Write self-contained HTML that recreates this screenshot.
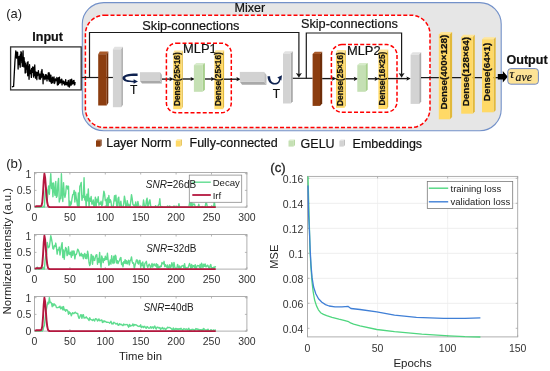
<!DOCTYPE html><html><head><meta charset="utf-8"><style>html,body{margin:0;padding:0;background:#fff;}svg{display:block;}</style></head><body><svg width="550" height="371" viewBox="0 0 550 371">
<rect width="550" height="371" fill="#fff"/>
<text x="6.2" y="18.1" font-family='"Liberation Sans", Arial, sans-serif' font-size="12.9" fill="#222">(a)</text>
<text x="32.2" y="41.1" font-family='"Liberation Sans", Arial, sans-serif' font-weight="bold" font-size="12.6" fill="#111" stroke="#111" stroke-width="0.2">Input</text>
<rect x="82.3" y="2.6" width="418.9" height="128.2" rx="21.5" fill="#e6e6e6" stroke="#7391c9" stroke-width="1.1"/>
<rect x="85.4" y="15.2" width="344.6" height="112.4" rx="19" fill="#fff" stroke="#ff0000" stroke-width="1.5" stroke-dasharray="4 2.1"/>
<text x="234.4" y="12.4" font-family='"Liberation Sans", Arial, sans-serif' font-size="12.6" fill="#111" stroke="#111" stroke-width="0.2">Mixer</text>
<rect x="10.6" y="46.9" width="70.6" height="43.0" fill="#fff" stroke="#333" stroke-width="1.3"/>
<polyline points="11.9,86.8 13.6,86.4 14.9,62 15.8,50.8 16.30,55.21 16.56,58.06 16.82,55.50 17.08,52.13 17.34,55.53 17.60,52.36 17.86,59.91 18.12,69.01 18.38,57.09 18.64,56.68 18.90,64.63 19.16,64.05 19.42,62.62 19.68,56.06 19.94,62.25 20.20,67.18 20.46,54.38 20.72,60.33 20.98,51.59 21.24,55.76 21.50,52.72 21.76,62.84 22.02,56.92 22.28,66.36 22.54,65.90 22.80,64.11 23.06,50.83 23.32,62.56 23.58,65.61 23.84,66.75 24.10,57.76 24.36,63.91 24.62,61.40 24.88,62.60 25.14,72.99 25.40,63.14 25.66,67.53 25.92,72.59 26.18,65.07 26.44,67.70 26.70,69.00 26.96,68.92 27.22,62.61 27.48,69.30 27.74,75.78 28.00,61.71 28.26,73.56 28.52,70.15 28.78,66.70 29.04,79.26 29.30,73.59 29.56,64.73 29.82,70.73 30.08,73.13 30.34,69.83 30.60,73.83 30.86,70.64 31.12,73.98 31.38,77.45 31.64,68.40 31.90,72.32 32.16,69.60 32.42,72.25 32.68,66.84 32.94,69.55 33.20,71.28 33.46,75.94 33.72,77.06 33.98,67.10 34.24,69.41 34.50,75.35 34.76,64.93 35.02,71.17 35.28,72.76 35.54,78.18 35.80,76.07 36.06,72.27 36.32,72.25 36.58,72.84 36.84,79.66 37.10,72.44 37.36,73.03 37.62,75.57 37.88,73.94 38.14,73.78 38.40,70.58 38.66,74.68 38.92,73.26 39.18,79.09 39.44,77.37 39.70,75.10 39.96,77.62 40.22,74.24 40.48,79.12 40.74,75.62 41.00,77.72 41.26,71.54 41.52,77.13 41.78,70.52 42.04,69.53 42.30,75.33 42.56,73.53 42.82,77.07 43.08,83.80 43.34,74.15 43.60,74.93 43.86,77.64 44.12,78.63 44.38,76.69 44.64,76.72 44.90,79.57 45.16,79.10 45.42,74.54 45.68,77.47 45.94,77.89 46.20,74.75 46.46,78.70 46.72,75.51 46.98,80.92 47.24,78.73 47.50,78.51 47.76,76.63 48.02,78.07 48.28,72.79 48.54,75.35 48.80,79.67 49.06,72.72 49.32,81.17 49.58,74.00 49.84,81.06 50.10,76.69 50.36,81.26 50.62,79.55 50.88,75.06 51.14,82.74 51.40,83.33 51.66,79.32 51.92,78.84 52.18,79.23 52.44,77.13 52.70,82.73 52.96,78.45 53.22,79.83 53.48,77.97 53.74,78.49 54.00,76.88 54.26,83.53 54.52,79.96 54.78,82.91 55.04,80.54 55.30,78.80 55.56,79.79 55.82,79.25 56.08,80.74 56.34,79.83 56.60,80.07 56.86,77.45 57.12,78.93 57.38,85.05 57.64,79.38 57.90,78.51 58.16,81.95 58.42,84.59 58.68,77.73 58.94,80.79 59.20,79.83 59.46,77.20 59.72,83.19 59.98,81.44 60.24,81.72 60.50,79.84 60.76,82.71 61.02,80.45 61.28,81.43 61.54,79.25 61.80,79.07 62.06,84.96 62.32,80.81 62.58,82.68 62.84,81.99 63.10,81.13 63.36,81.04 63.62,83.63 63.88,81.61 64.14,81.99 64.40,82.43 64.66,85.01 64.92,83.97 65.18,83.36 65.44,81.34 65.70,79.61 65.96,84.69 66.22,84.76 66.48,82.41 66.74,83.92 67.00,84.47 67.26,84.61 67.52,84.84 67.78,81.94 68.04,86.17 68.30,80.33 68.56,84.85 68.82,84.11 69.08,84.95 69.34,87.11 69.60,86.30 69.86,80.81 70.12,79.71 70.38,85.00 70.64,81.21 70.90,83.34 71.16,85.16 71.42,80.02 71.68,79.10 71.94,84.06 72.20,83.65 72.46,83.09 72.72,83.71 72.98,81.90 73.24,80.60 73.50,83.41 73.76,81.80 74.02,80.47 74.28,84.90 74.54,83.78 74.80,84.77 75.06,81.97" fill="none" stroke="#000" stroke-width="1.3" stroke-linejoin="round"/>
<line x1="81.5" y1="77.5" x2="113" y2="77.5" stroke="#1a1a1a" stroke-width="1.2"/>
<polyline points="89.5,77.5 89.5,32.5 298.9,32.5 298.9,74" fill="none" stroke="#1a1a1a" stroke-width="1.2"/>
<polygon points="298.9,77.7 295.9,72.9 298.9,73.9 301.9,72.9" fill="#1a1a1a"/>
<text x="142.3" y="29.8" font-family='"Liberation Sans", Arial, sans-serif' font-size="12.75" fill="#111" stroke="#111" stroke-width="0.2">Skip-connections</text>
<polyline points="306.3,78.4 306.3,33 401.6,33 401.6,74" fill="none" stroke="#1a1a1a" stroke-width="1.2"/>
<polygon points="401.6,77.7 398.6,72.9 401.6,73.9 404.6,72.9" fill="#1a1a1a"/>
<text x="300.9" y="28.0" font-family='"Liberation Sans", Arial, sans-serif' font-size="12.75" fill="#111" stroke="#111" stroke-width="0.2">Skip-connections</text>
<polygon points="98.2,54.2 99.8,51.400000000000006 108.3,51.400000000000006 106.7,54.2" fill="#a95a2a"/>
<polygon points="106.7,54.2 108.3,51.400000000000006 108.3,102.7 106.7,105.5" fill="#6e2d08"/>
<rect x="98.2" y="54.2" width="8.5" height="51.3" fill="#8c3d0f"/>
<polygon points="112.9,49.3 114.60000000000001,46.8 122.9,46.8 121.2,49.3" fill="#e2e2e2"/>
<polygon points="121.2,49.3 122.9,46.8 122.9,104.69999999999999 121.2,107.19999999999999" fill="#ababab"/>
<rect x="112.9" y="49.3" width="8.3" height="57.9" fill="#d3d3d3"/>
<path d="M137.6,73.5 C130,73.3 122.7,74.4 122.5,78.0 C122.4,81.4 128,82.4 134.6,82.4 L134.6,80.7 C129,80.8 125.3,80.1 125.3,78.0 C125.3,76.3 130,76.0 137.6,76.1 Z" fill="#0f2250"/>
<polygon points="138.0,81.5 133.6,79.2 133.6,83.8" fill="#0f2250"/>
<text x="133.6" y="93.6" text-anchor="middle" font-family='"Liberation Sans", Arial, sans-serif' font-size="12" fill="#111" stroke="#111" stroke-width="0.2">T</text>
<polygon points="140.0,81.0 160.0,81.0 162.0,83.6 142.0,83.6" fill="#a9a9a9"/>
<polygon points="160.0,72.2 162.0,74.8 162.0,83.6 160.0,81.0" fill="#bdbdbd"/>
<rect x="140.0" y="72.2" width="20.0" height="8.8" fill="#d2d2d2"/>
<line x1="162" y1="79.1" x2="170.8" y2="79.1" stroke="#141414" stroke-width="1.35"/>
<polygon points="173.8,79.1 169.4,77.0 170.20000000000002,79.1 169.4,81.19999999999999" fill="#141414"/>
<rect x="166.4" y="43.2" width="64.9" height="69.6" rx="10" fill="none" stroke="#ff0000" stroke-width="1.5" stroke-dasharray="4 2.1"/>
<text x="183.0" y="53.2" font-family='"Liberation Sans", Arial, sans-serif' font-size="12.9" fill="#111" stroke="#111" stroke-width="0.2">MLP1</text>
<polygon points="173.2,52.8 174.39999999999998,50.4 182.79999999999998,50.4 181.6,52.8" fill="#ffe699"/>
<polygon points="181.6,52.8 182.79999999999998,50.4 182.79999999999998,106.79999999999998 181.6,109.19999999999999" fill="#e2b93b"/>
<rect x="173.2" y="52.8" width="8.4" height="56.4" fill="#ffd966"/>
<text x="177.09999999999997" y="79.2" transform="rotate(-90 177.09999999999997 79.2)" text-anchor="middle" dominant-baseline="central" font-family='"Liberation Sans", Arial, sans-serif' font-weight="bold" font-size="8.3" fill="#111" stroke="#111" stroke-width="0.25">Dense(25×16)</text>
<line x1="182.5" y1="79.0" x2="191.9" y2="79.0" stroke="#141414" stroke-width="1.35"/>
<polygon points="194.9,79.0 190.5,76.9 191.3,79.0 190.5,81.1" fill="#141414"/>
<polygon points="193.9,65.1 196.3,62.99999999999999 204.9,62.99999999999999 202.5,65.1" fill="#d7ebca"/>
<polygon points="202.5,65.1 204.9,62.99999999999999 204.9,89.7 202.5,91.8" fill="#a8d08d"/>
<rect x="193.9" y="65.1" width="8.6" height="26.7" fill="#c5e0b4"/>
<line x1="205" y1="79.0" x2="212.3" y2="79.0" stroke="#141414" stroke-width="1.35"/>
<polygon points="215.3,79.0 210.9,76.9 211.70000000000002,79.0 210.9,81.1" fill="#141414"/>
<polygon points="214.4,52.6 215.6,50.2 224.1,50.2 222.9,52.6" fill="#ffe699"/>
<polygon points="222.9,52.6 224.1,50.2 224.1,106.8 222.9,109.2" fill="#e2b93b"/>
<rect x="214.4" y="52.6" width="8.5" height="56.6" fill="#ffd966"/>
<text x="218.35" y="79.0" transform="rotate(-90 218.35 79.0)" text-anchor="middle" dominant-baseline="central" font-family='"Liberation Sans", Arial, sans-serif' font-weight="bold" font-size="8.3" fill="#111" stroke="#111" stroke-width="0.25">Dense(25×16)</text>
<line x1="224" y1="79.2" x2="237.8" y2="79.2" stroke="#141414" stroke-width="1.35"/>
<polygon points="240.8,79.2 236.4,77.10000000000001 237.20000000000002,79.2 236.4,81.3" fill="#141414"/>
<polygon points="239.8,81.80000000000001 264.2,81.80000000000001 266.5,84.80000000000001 242.10000000000002,84.80000000000001" fill="#a9a9a9"/>
<polygon points="264.2,71.9 266.5,74.9 266.5,84.80000000000001 264.2,81.80000000000001" fill="#bdbdbd"/>
<rect x="239.8" y="71.9" width="24.4" height="9.9" fill="#d2d2d2"/>
<path d="M267.5,76.3 C267.7,81.6 270.6,84.6 274.7,84.6 C278.4,84.6 280.3,82.2 280.5,78.9 L279.1,78.9 C278.9,81.4 277.3,82.9 274.7,82.9 C272.0,82.9 270.2,80.6 270.1,76.3 Z" fill="#0f2250"/>
<polygon points="282.0,75.3 277.3,77.5 281.3,80.4" fill="#0f2250"/>
<text x="276.5" y="97.6" text-anchor="middle" font-family='"Liberation Sans", Arial, sans-serif' font-size="12" fill="#111" stroke="#111" stroke-width="0.2">T</text>
<polygon points="283.0,53.5 285.1,51.3 292.8,51.3 290.7,53.5" fill="#e2e2e2"/>
<polygon points="290.7,53.5 292.8,51.3 292.8,101.3 290.7,103.5" fill="#ababab"/>
<rect x="283.0" y="53.5" width="7.7" height="50.0" fill="#d3d3d3"/>
<line x1="292.8" y1="78.3" x2="312.6" y2="78.3" stroke="#1a1a1a" stroke-width="1.2"/>
<polygon points="312.6,54.0 314.8,51.7 322.2,51.7 320.0,54.0" fill="#a95a2a"/>
<polygon points="320.0,54.0 322.2,51.7 322.2,103.60000000000001 320.0,105.9" fill="#6e2d08"/>
<rect x="312.6" y="54.0" width="7.4" height="51.9" fill="#8c3d0f"/>
<line x1="322.2" y1="78.6" x2="333.4" y2="78.6" stroke="#141414" stroke-width="1.35"/>
<polygon points="336.4,78.6 332.0,76.5 332.79999999999995,78.6 332.0,80.69999999999999" fill="#141414"/>
<rect x="331.4" y="44.6" width="65.6" height="67.6" rx="10.5" fill="none" stroke="#ff0000" stroke-width="1.5" stroke-dasharray="4 2.1"/>
<text x="346.9" y="54.9" font-family='"Liberation Sans", Arial, sans-serif' font-size="12.9" fill="#111" stroke="#111" stroke-width="0.2">MLP2</text>
<polygon points="336.0,52.4 337.2,50.0 345.8,50.0 344.6,52.4" fill="#ffe699"/>
<polygon points="344.6,52.4 345.8,50.0 345.8,105.39999999999999 344.6,107.8" fill="#e2b93b"/>
<rect x="336.0" y="52.4" width="8.6" height="55.4" fill="#ffd966"/>
<text x="340.0" y="79.0" transform="rotate(-90 340.0 79.0)" text-anchor="middle" dominant-baseline="central" font-family='"Liberation Sans", Arial, sans-serif' font-weight="bold" font-size="8.3" fill="#111" stroke="#111" stroke-width="0.25">Dense(25×16)</text>
<line x1="345.5" y1="78.8" x2="355.2" y2="78.8" stroke="#141414" stroke-width="1.35"/>
<polygon points="358.2,78.8 353.8,76.7 354.59999999999997,78.8 353.8,80.89999999999999" fill="#141414"/>
<polygon points="357.3,65.1 359.7,62.99999999999999 367.7,62.99999999999999 365.3,65.1" fill="#d7ebca"/>
<polygon points="365.3,65.1 367.7,62.99999999999999 367.7,89.7 365.3,91.8" fill="#a8d08d"/>
<rect x="357.3" y="65.1" width="8.0" height="26.7" fill="#c5e0b4"/>
<line x1="368" y1="78.8" x2="376.0" y2="78.8" stroke="#141414" stroke-width="1.35"/>
<polygon points="379.0,78.8 374.6,76.7 375.4,78.8 374.6,80.89999999999999" fill="#141414"/>
<polygon points="378.4,52.0 379.59999999999997,49.6 388.2,49.6 387.0,52.0" fill="#ffe699"/>
<polygon points="387.0,52.0 388.2,49.6 388.2,106.6 387.0,109.0" fill="#e2b93b"/>
<rect x="378.4" y="52.0" width="8.6" height="57.0" fill="#ffd966"/>
<text x="382.4" y="78.6" transform="rotate(-90 382.4 78.6)" text-anchor="middle" dominant-baseline="central" font-family='"Liberation Sans", Arial, sans-serif' font-weight="bold" font-size="8.3" fill="#111" stroke="#111" stroke-width="0.25">Dense(16×25)</text>
<line x1="388" y1="78.6" x2="407.8" y2="78.6" stroke="#141414" stroke-width="1.35"/>
<polygon points="410.8,78.6 406.40000000000003,76.5 407.2,78.6 406.40000000000003,80.69999999999999" fill="#141414"/>
<polygon points="410.6,54.6 412.6,52.300000000000004 421.20000000000005,52.300000000000004 419.20000000000005,54.6" fill="#e2e2e2"/>
<polygon points="419.20000000000005,54.6 421.20000000000005,52.300000000000004 421.20000000000005,101.60000000000001 419.20000000000005,103.9" fill="#ababab"/>
<rect x="410.6" y="54.6" width="8.6" height="49.3" fill="#d3d3d3"/>
<line x1="421" y1="77.7" x2="500" y2="77.7" stroke="#1a1a1a" stroke-width="1.2"/>
<polygon points="438.8,34.2 441.0,32.0 452.1,32.0 449.90000000000003,34.2" fill="#ffe699"/>
<polygon points="449.90000000000003,34.2 452.1,32.0 452.1,117.1 449.90000000000003,119.3" fill="#e2b93b"/>
<rect x="438.8" y="34.2" width="11.1" height="85.1" fill="#ffd966"/>
<text x="443.35" y="72.1" transform="rotate(-90 443.35 72.1)" text-anchor="middle" dominant-baseline="central" font-family='"Liberation Sans", Arial, sans-serif' font-weight="bold" font-size="9.9" fill="#111" stroke="#111" stroke-width="0.25">Dense(400×128)</text>
<polygon points="461.2,36.9 463.2,34.8 474.8,34.8 472.8,36.9" fill="#ffe699"/>
<polygon points="472.8,36.9 474.8,34.8 474.8,111.6 472.8,113.69999999999999" fill="#e2b93b"/>
<rect x="461.2" y="36.9" width="11.6" height="76.8" fill="#ffd966"/>
<text x="466.0" y="71.6" transform="rotate(-90 466.0 71.6)" text-anchor="middle" dominant-baseline="central" font-family='"Liberation Sans", Arial, sans-serif' font-weight="bold" font-size="9.9" fill="#111" stroke="#111" stroke-width="0.25">Dense(128×64)</text>
<polygon points="482.0,39.3 484.1,37.199999999999996 495.70000000000005,37.199999999999996 493.6,39.3" fill="#ffe699"/>
<polygon points="493.6,39.3 495.70000000000005,37.199999999999996 495.70000000000005,110.2 493.6,112.3" fill="#e2b93b"/>
<rect x="482.0" y="39.3" width="11.6" height="73.0" fill="#ffd966"/>
<text x="486.8" y="72.0" transform="rotate(-90 486.8 72.0)" text-anchor="middle" dominant-baseline="central" font-family='"Liberation Sans", Arial, sans-serif' font-weight="bold" font-size="9.9" fill="#111" stroke="#111" stroke-width="0.25">Dense(64×1)</text>
<polygon points="497.8,73.9 502.8,73.9 502.8,70.9 507.8,76.8 502.8,82.5 502.8,79.6 497.8,79.6" fill="#000"/>
<text x="506.4" y="64.3" font-family='"Liberation Sans", Arial, sans-serif' font-weight="bold" font-size="12.6" fill="#111" stroke="#111" stroke-width="0.2">Output</text>
<rect x="507.8" y="68.6" width="30.6" height="15.6" rx="3" fill="#fde396" stroke="#7088c4" stroke-width="1"/>
<text x="509.6" y="78.3" font-family='"Liberation Serif", "Times New Roman", serif' font-style="italic" font-size="13" fill="#111" stroke="#111" stroke-width="0.2">τ<tspan font-size="11.8" dx="1.3" dy="3.0">ave</tspan></text>
<polygon points="96.0,140.70000000000002 97.3,139.4 101.6,139.4 100.3,140.70000000000002" fill="#a95a2a"/>
<polygon points="100.3,140.70000000000002 101.6,139.4 101.6,145.4 100.3,146.70000000000002" fill="#6e2d08"/>
<rect x="96.0" y="140.70000000000002" width="4.3" height="6.0" fill="#8c3d0f"/>
<text x="106.2" y="147.4" font-family='"Liberation Sans", Arial, sans-serif' font-size="12.5" fill="#111" stroke="#111" stroke-width="0.2">Layer Norm</text>
<polygon points="175.8,140.60000000000002 177.10000000000002,139.3 181.8,139.3 180.5,140.60000000000002" fill="#ffe699"/>
<polygon points="180.5,140.60000000000002 181.8,139.3 181.8,145.3 180.5,146.60000000000002" fill="#e2b93b"/>
<rect x="175.8" y="140.60000000000002" width="4.7" height="6.0" fill="#ffd966"/>
<text x="189.5" y="147.4" font-family='"Liberation Sans", Arial, sans-serif' font-size="12.5" fill="#111" stroke="#111" stroke-width="0.2">Fully-connected</text>
<polygon points="288.5,140.70000000000002 289.8,139.4 294.8,139.4 293.5,140.70000000000002" fill="#d7ebca"/>
<polygon points="293.5,140.70000000000002 294.8,139.4 294.8,145.3 293.5,146.60000000000002" fill="#a8d08d"/>
<rect x="288.5" y="140.70000000000002" width="5.0" height="5.9" fill="#c5e0b4"/>
<text x="300.6" y="147.5" font-family='"Liberation Sans", Arial, sans-serif' font-size="12.5" fill="#111" stroke="#111" stroke-width="0.2">GELU</text>
<polygon points="339.4,140.70000000000002 340.7,139.4 344.8,139.4 343.5,140.70000000000002" fill="#e2e2e2"/>
<polygon points="343.5,140.70000000000002 344.8,139.4 344.8,145.3 343.5,146.60000000000002" fill="#b2b2b2"/>
<rect x="339.4" y="140.70000000000002" width="4.1000000000000005" height="5.9" fill="#d3d3d3"/>
<text x="352.6" y="147.5" font-family='"Liberation Sans", Arial, sans-serif' font-size="12.5" fill="#111" stroke="#111" stroke-width="0.2">Embeddings</text>
<text x="6.2" y="168.0" font-family='"Liberation Sans", Arial, sans-serif' font-size="13.2" fill="#222">(b)</text>
<rect x="34.5" y="172.5" width="212.4" height="34.6" fill="#fff" stroke="#a6a6a6" stroke-width="0.9"/>
<line x1="34.50" y1="207.1" x2="34.50" y2="205.1" stroke="#a6a6a6" stroke-width="0.8"/>
<line x1="34.50" y1="172.5" x2="34.50" y2="174.5" stroke="#a6a6a6" stroke-width="0.8"/>
<text x="34.50" y="221.10" text-anchor="middle" font-family='"Liberation Sans", Arial, sans-serif' font-size="10.5" fill="#333">0</text>
<line x1="69.90" y1="207.1" x2="69.90" y2="205.1" stroke="#a6a6a6" stroke-width="0.8"/>
<line x1="69.90" y1="172.5" x2="69.90" y2="174.5" stroke="#a6a6a6" stroke-width="0.8"/>
<text x="69.90" y="221.10" text-anchor="middle" font-family='"Liberation Sans", Arial, sans-serif' font-size="10.5" fill="#333">50</text>
<line x1="105.30" y1="207.1" x2="105.30" y2="205.1" stroke="#a6a6a6" stroke-width="0.8"/>
<line x1="105.30" y1="172.5" x2="105.30" y2="174.5" stroke="#a6a6a6" stroke-width="0.8"/>
<text x="105.30" y="221.10" text-anchor="middle" font-family='"Liberation Sans", Arial, sans-serif' font-size="10.5" fill="#333">100</text>
<line x1="140.70" y1="207.1" x2="140.70" y2="205.1" stroke="#a6a6a6" stroke-width="0.8"/>
<line x1="140.70" y1="172.5" x2="140.70" y2="174.5" stroke="#a6a6a6" stroke-width="0.8"/>
<text x="140.70" y="221.10" text-anchor="middle" font-family='"Liberation Sans", Arial, sans-serif' font-size="10.5" fill="#333">150</text>
<line x1="176.10" y1="207.1" x2="176.10" y2="205.1" stroke="#a6a6a6" stroke-width="0.8"/>
<line x1="176.10" y1="172.5" x2="176.10" y2="174.5" stroke="#a6a6a6" stroke-width="0.8"/>
<text x="176.10" y="221.10" text-anchor="middle" font-family='"Liberation Sans", Arial, sans-serif' font-size="10.5" fill="#333">200</text>
<line x1="211.50" y1="207.1" x2="211.50" y2="205.1" stroke="#a6a6a6" stroke-width="0.8"/>
<line x1="211.50" y1="172.5" x2="211.50" y2="174.5" stroke="#a6a6a6" stroke-width="0.8"/>
<text x="211.50" y="221.10" text-anchor="middle" font-family='"Liberation Sans", Arial, sans-serif' font-size="10.5" fill="#333">250</text>
<line x1="246.90" y1="207.1" x2="246.90" y2="205.1" stroke="#a6a6a6" stroke-width="0.8"/>
<line x1="246.90" y1="172.5" x2="246.90" y2="174.5" stroke="#a6a6a6" stroke-width="0.8"/>
<text x="246.90" y="221.10" text-anchor="middle" font-family='"Liberation Sans", Arial, sans-serif' font-size="10.5" fill="#333">300</text>
<line x1="34.5" y1="207.10" x2="36.5" y2="207.10" stroke="#a6a6a6" stroke-width="0.8"/>
<line x1="246.9" y1="207.10" x2="244.9" y2="207.10" stroke="#a6a6a6" stroke-width="0.8"/>
<text x="31.3" y="211.20" text-anchor="end" font-family='"Liberation Sans", Arial, sans-serif' font-size="10.5" fill="#333">0</text>
<line x1="34.5" y1="190.39" x2="36.5" y2="190.39" stroke="#a6a6a6" stroke-width="0.8"/>
<line x1="246.9" y1="190.39" x2="244.9" y2="190.39" stroke="#a6a6a6" stroke-width="0.8"/>
<text x="31.3" y="194.49" text-anchor="end" font-family='"Liberation Sans", Arial, sans-serif' font-size="10.5" fill="#333">0.5</text>
<line x1="34.5" y1="173.67" x2="36.5" y2="173.67" stroke="#a6a6a6" stroke-width="0.8"/>
<line x1="246.9" y1="173.67" x2="244.9" y2="173.67" stroke="#a6a6a6" stroke-width="0.8"/>
<text x="31.3" y="177.77" text-anchor="end" font-family='"Liberation Sans", Arial, sans-serif' font-size="10.5" fill="#333">1</text>
<polyline points="35.21,207.10 35.92,207.10 36.62,207.10 37.33,207.10 38.04,207.10 38.75,207.10 39.46,207.10 40.16,207.10 40.87,207.10 41.58,207.10 42.29,207.10 43.00,207.10 43.70,206.33 44.41,207.10 45.12,192.34 45.83,187.46 46.54,189.43 47.24,199.59 47.95,191.21 48.66,185.91 49.37,194.27 50.08,183.49 50.78,173.67 51.49,188.48 52.20,183.07 52.91,196.70 53.62,182.93 54.32,190.28 55.03,195.28 55.74,181.48 56.45,197.37 57.16,195.98 57.86,184.17 58.57,178.40 59.28,201.96 59.99,198.76 60.70,198.57 61.40,173.80 62.11,194.77 62.82,201.48 63.53,182.80 64.24,193.98 64.94,197.42 65.65,193.69 66.36,185.85 67.07,185.88 67.78,188.97 68.48,186.13 69.19,207.10 69.90,201.16 70.61,205.23 71.32,203.77 72.02,198.52 72.73,194.55 73.44,194.35 74.15,190.40 74.86,202.00 75.56,192.18 76.27,197.70 76.98,202.24 77.69,207.10 78.40,192.99 79.10,207.10 79.81,186.49 80.52,184.80 81.23,182.42 81.94,200.29 82.64,196.02 83.35,197.49 84.06,177.67 84.77,200.04 85.48,196.33 86.18,207.10 86.89,194.23 87.60,200.73 88.31,188.93 89.02,207.10 89.72,198.27 90.43,201.35 91.14,196.55 91.85,204.16 92.56,203.90 93.26,199.85 93.97,206.97 94.68,204.83 95.39,197.12 96.10,207.10 96.80,199.25 97.51,202.10 98.22,196.77 98.93,205.20 99.64,203.00 100.34,204.17 101.05,201.18 101.76,205.94 102.47,204.75 103.18,197.14 103.88,191.20 104.59,193.90 105.30,200.56 106.01,199.67 106.72,206.29 107.42,197.95 108.13,207.10 108.84,195.47 109.55,202.60 110.26,199.69 110.96,201.43 111.67,207.10 112.38,207.10 113.09,207.10 113.80,202.28 114.50,195.70 115.21,200.89 115.92,195.10 116.63,205.37 117.34,207.10 118.04,198.33 118.75,197.11 119.46,207.10 120.17,204.83 120.88,201.26 121.58,207.10 122.29,207.10 123.00,207.10 123.71,203.73 124.42,196.13 125.12,200.17 125.83,207.10 126.54,207.10 127.25,200.66 127.96,205.66 128.66,204.28 129.37,207.10 130.08,206.58 130.79,201.19 131.50,194.61 132.20,198.68 132.91,204.36 133.62,205.46 134.33,204.95 135.04,207.10 135.74,201.92 136.45,207.10 137.16,207.10 137.87,201.50 138.58,205.17 139.28,206.74 139.99,207.10 140.70,207.10 141.41,207.10 142.12,207.10 142.82,207.10 143.53,200.00 144.24,204.45 144.95,207.10 145.66,207.10 146.36,200.67 147.07,198.13 147.78,207.10 148.49,205.35 149.20,201.22 149.90,199.80 150.61,205.40 151.32,207.10 152.03,207.10 152.74,207.10 153.44,207.10 154.15,207.10 154.86,207.10 155.57,205.69 156.28,207.06 156.98,207.10 157.69,207.10 158.40,205.22 159.11,204.20 159.82,198.78 160.52,207.07 161.23,207.10 161.94,206.43 162.65,207.10 163.36,207.10 164.06,207.10 164.77,207.10 165.48,207.10 166.19,207.10 166.90,207.10 167.60,205.99 168.31,207.10 169.02,207.10 169.73,205.97 170.44,207.10 171.14,207.10 171.85,207.10 172.56,207.10 173.27,207.10 173.98,205.90 174.68,207.10 175.39,207.10 176.10,207.10 176.81,206.69 177.52,207.10 178.22,207.10 178.93,203.65 179.64,207.10 180.35,207.10 181.06,207.10 181.76,207.10 182.47,207.10 183.18,207.10 183.89,207.10 184.60,207.10 185.30,207.10 186.01,207.10 186.72,207.10 187.43,207.10 188.14,207.10 188.84,207.10 189.55,203.15 190.26,201.57 190.97,207.10 191.68,201.21 192.38,207.10 193.09,203.90 193.80,204.32 194.51,204.09 195.22,207.10 195.92,207.10 196.63,207.10 197.34,206.60 198.05,207.10 198.76,204.27 199.46,207.10 200.17,207.10 200.88,207.10 201.59,207.10 202.30,206.40 203.00,207.10 203.71,207.10 204.42,207.10 205.13,207.10 205.84,202.94 206.54,203.16 207.25,206.46 207.96,207.10 208.67,207.10 209.38,207.10 210.08,207.10 210.79,207.10 211.50,207.10 212.21,206.26 212.92,207.10 213.62,207.10 214.33,201.04 215.04,207.10 215.75,207.10" fill="none" stroke="#5fdc8f" stroke-width="1.4" stroke-linejoin="round"/>
<polyline points="35.21,207.10 35.92,206.26 36.62,206.26 37.33,206.26 38.04,206.26 38.75,206.26 39.46,206.26 40.16,206.26 40.87,206.18 41.58,205.52 42.29,202.33 43.00,193.35 43.70,180.75 44.41,173.67 45.12,177.60 45.83,186.82 46.54,196.25 47.24,202.58 47.95,205.63 48.66,206.73 49.37,207.03 50.08,207.09 50.78,207.10 51.49,207.10 52.20,207.10 52.91,207.10 53.62,207.10 54.32,207.10 55.03,207.10 55.74,207.10 56.45,207.10 57.16,207.10 57.86,207.10 58.57,207.10 59.28,207.10 59.99,207.10 60.70,207.10 61.40,207.10 62.11,207.10 62.82,207.10 63.53,207.10 64.24,207.10 64.94,207.10 65.65,207.10 66.36,207.10 67.07,207.10 67.78,207.10 68.48,207.10 69.19,207.10 69.90,207.10 70.61,207.10 71.32,207.10 72.02,207.10 72.73,207.10 73.44,207.10 74.15,207.10 74.86,207.10 75.56,207.10 76.27,207.10 76.98,207.10 77.69,207.10 78.40,207.10 79.10,207.10 79.81,207.10 80.52,207.10 81.23,207.10 81.94,207.10 82.64,207.10 83.35,207.10 84.06,207.10 84.77,207.10 85.48,207.10 86.18,207.10 86.89,207.10 87.60,207.10 88.31,207.10 89.02,207.10 89.72,207.10 90.43,207.10 91.14,207.10 91.85,207.10 92.56,207.10 93.26,207.10 93.97,207.10 94.68,207.10 95.39,207.10 96.10,207.10 96.80,207.10 97.51,207.10 98.22,207.10 98.93,207.10 99.64,207.10 100.34,207.10 101.05,207.10 101.76,207.10 102.47,207.10 103.18,207.10 103.88,207.10 104.59,207.10 105.30,207.10 106.01,207.10 106.72,207.10 107.42,207.10 108.13,207.10 108.84,207.10 109.55,207.10 110.26,207.10 110.96,207.10 111.67,207.10 112.38,207.10 113.09,207.10 113.80,207.10 114.50,207.10 115.21,207.10 115.92,207.10 116.63,207.10 117.34,207.10 118.04,207.10 118.75,207.10 119.46,207.10 120.17,207.10 120.88,207.10 121.58,207.10 122.29,207.10 123.00,207.10 123.71,207.10 124.42,207.10 125.12,207.10 125.83,207.10 126.54,207.10 127.25,207.10 127.96,207.10 128.66,207.10 129.37,207.10 130.08,207.10 130.79,207.10 131.50,207.10 132.20,207.10 132.91,207.10 133.62,207.10 134.33,207.10 135.04,207.10 135.74,207.10 136.45,207.10 137.16,207.10 137.87,207.10 138.58,207.10 139.28,207.10 139.99,207.10 140.70,207.10 141.41,207.10 142.12,207.10 142.82,207.10 143.53,207.10 144.24,207.10 144.95,207.10 145.66,207.10 146.36,207.10 147.07,207.10 147.78,207.10 148.49,207.10 149.20,207.10 149.90,207.10 150.61,207.10 151.32,207.10 152.03,207.10 152.74,207.10 153.44,207.10 154.15,207.10 154.86,207.10 155.57,207.10 156.28,207.10 156.98,207.10 157.69,207.10 158.40,207.10 159.11,207.10 159.82,207.10 160.52,207.10 161.23,207.10 161.94,207.10 162.65,207.10 163.36,207.10 164.06,207.10 164.77,207.10 165.48,207.10 166.19,207.10 166.90,207.10 167.60,207.10 168.31,207.10 169.02,207.10 169.73,207.10 170.44,207.10 171.14,207.10 171.85,207.10 172.56,207.10 173.27,207.10 173.98,207.10 174.68,207.10 175.39,207.10 176.10,207.10 176.81,207.10 177.52,207.10 178.22,207.10 178.93,207.10 179.64,207.10 180.35,207.10 181.06,207.10 181.76,207.10 182.47,207.10 183.18,207.10 183.89,207.10 184.60,207.10 185.30,207.10 186.01,207.10 186.72,207.10 187.43,207.10 188.14,207.10 188.84,207.10 189.55,207.10 190.26,207.10 190.97,207.10 191.68,207.10 192.38,207.10 193.09,207.10 193.80,207.10 194.51,207.10 195.22,207.10 195.92,207.10 196.63,207.10 197.34,207.10 198.05,207.10 198.76,207.10 199.46,207.10 200.17,207.10 200.88,207.10 201.59,207.10 202.30,207.10 203.00,207.10 203.71,207.10 204.42,207.10 205.13,207.10 205.84,207.10 206.54,207.10 207.25,207.10 207.96,207.10 208.67,207.10 209.38,207.10 210.08,207.10 210.79,207.10 211.50,207.10 212.21,207.10 212.92,207.10 213.62,207.10 214.33,207.10 215.04,207.10 215.75,207.10" fill="none" stroke="#b5173f" stroke-width="1.9" stroke-linejoin="round"/>
<rect x="34.5" y="234.5" width="212.4" height="34.6" fill="#fff" stroke="#a6a6a6" stroke-width="0.9"/>
<line x1="34.50" y1="269.1" x2="34.50" y2="267.1" stroke="#a6a6a6" stroke-width="0.8"/>
<line x1="34.50" y1="234.5" x2="34.50" y2="236.5" stroke="#a6a6a6" stroke-width="0.8"/>
<text x="34.50" y="283.10" text-anchor="middle" font-family='"Liberation Sans", Arial, sans-serif' font-size="10.5" fill="#333">0</text>
<line x1="69.90" y1="269.1" x2="69.90" y2="267.1" stroke="#a6a6a6" stroke-width="0.8"/>
<line x1="69.90" y1="234.5" x2="69.90" y2="236.5" stroke="#a6a6a6" stroke-width="0.8"/>
<text x="69.90" y="283.10" text-anchor="middle" font-family='"Liberation Sans", Arial, sans-serif' font-size="10.5" fill="#333">50</text>
<line x1="105.30" y1="269.1" x2="105.30" y2="267.1" stroke="#a6a6a6" stroke-width="0.8"/>
<line x1="105.30" y1="234.5" x2="105.30" y2="236.5" stroke="#a6a6a6" stroke-width="0.8"/>
<text x="105.30" y="283.10" text-anchor="middle" font-family='"Liberation Sans", Arial, sans-serif' font-size="10.5" fill="#333">100</text>
<line x1="140.70" y1="269.1" x2="140.70" y2="267.1" stroke="#a6a6a6" stroke-width="0.8"/>
<line x1="140.70" y1="234.5" x2="140.70" y2="236.5" stroke="#a6a6a6" stroke-width="0.8"/>
<text x="140.70" y="283.10" text-anchor="middle" font-family='"Liberation Sans", Arial, sans-serif' font-size="10.5" fill="#333">150</text>
<line x1="176.10" y1="269.1" x2="176.10" y2="267.1" stroke="#a6a6a6" stroke-width="0.8"/>
<line x1="176.10" y1="234.5" x2="176.10" y2="236.5" stroke="#a6a6a6" stroke-width="0.8"/>
<text x="176.10" y="283.10" text-anchor="middle" font-family='"Liberation Sans", Arial, sans-serif' font-size="10.5" fill="#333">200</text>
<line x1="211.50" y1="269.1" x2="211.50" y2="267.1" stroke="#a6a6a6" stroke-width="0.8"/>
<line x1="211.50" y1="234.5" x2="211.50" y2="236.5" stroke="#a6a6a6" stroke-width="0.8"/>
<text x="211.50" y="283.10" text-anchor="middle" font-family='"Liberation Sans", Arial, sans-serif' font-size="10.5" fill="#333">250</text>
<line x1="246.90" y1="269.1" x2="246.90" y2="267.1" stroke="#a6a6a6" stroke-width="0.8"/>
<line x1="246.90" y1="234.5" x2="246.90" y2="236.5" stroke="#a6a6a6" stroke-width="0.8"/>
<text x="246.90" y="283.10" text-anchor="middle" font-family='"Liberation Sans", Arial, sans-serif' font-size="10.5" fill="#333">300</text>
<line x1="34.5" y1="269.10" x2="36.5" y2="269.10" stroke="#a6a6a6" stroke-width="0.8"/>
<line x1="246.9" y1="269.10" x2="244.9" y2="269.10" stroke="#a6a6a6" stroke-width="0.8"/>
<text x="31.3" y="273.20" text-anchor="end" font-family='"Liberation Sans", Arial, sans-serif' font-size="10.5" fill="#333">0</text>
<line x1="34.5" y1="252.39" x2="36.5" y2="252.39" stroke="#a6a6a6" stroke-width="0.8"/>
<line x1="246.9" y1="252.39" x2="244.9" y2="252.39" stroke="#a6a6a6" stroke-width="0.8"/>
<text x="31.3" y="256.49" text-anchor="end" font-family='"Liberation Sans", Arial, sans-serif' font-size="10.5" fill="#333">0.5</text>
<line x1="34.5" y1="235.67" x2="36.5" y2="235.67" stroke="#a6a6a6" stroke-width="0.8"/>
<line x1="246.9" y1="235.67" x2="244.9" y2="235.67" stroke="#a6a6a6" stroke-width="0.8"/>
<text x="31.3" y="239.77" text-anchor="end" font-family='"Liberation Sans", Arial, sans-serif' font-size="10.5" fill="#333">1</text>
<polyline points="35.21,269.10 35.92,268.86 36.62,268.71 37.33,267.14 38.04,269.10 38.75,268.62 39.46,269.10 40.16,269.10 40.87,268.02 41.58,269.10 42.29,269.10 43.00,267.16 43.70,269.10 44.41,269.05 45.12,260.15 45.83,254.48 46.54,254.36 47.24,242.43 47.95,246.34 48.66,247.76 49.37,246.51 50.08,241.52 50.78,235.67 51.49,238.95 52.20,242.93 52.91,248.71 53.62,249.06 54.32,245.67 55.03,246.63 55.74,243.07 56.45,247.18 57.16,254.06 57.86,249.74 58.57,250.04 59.28,247.07 59.99,255.00 60.70,250.13 61.40,245.95 62.11,242.63 62.82,257.51 63.53,249.95 64.24,259.25 64.94,251.97 65.65,247.51 66.36,248.63 67.07,255.65 67.78,254.59 68.48,246.81 69.19,253.77 69.90,254.58 70.61,252.27 71.32,257.25 72.02,250.84 72.73,255.49 73.44,251.07 74.15,251.25 74.86,258.83 75.56,254.43 76.27,254.53 76.98,252.21 77.69,249.15 78.40,250.10 79.10,252.25 79.81,255.79 80.52,255.51 81.23,253.15 81.94,256.04 82.64,254.48 83.35,258.69 84.06,255.03 84.77,253.38 85.48,258.42 86.18,254.77 86.89,258.67 87.60,251.19 88.31,254.98 89.02,262.51 89.72,265.57 90.43,263.79 91.14,254.53 91.85,255.47 92.56,264.20 93.26,256.29 93.97,260.04 94.68,260.40 95.39,256.98 96.10,254.88 96.80,254.82 97.51,264.19 98.22,258.35 98.93,262.21 99.64,252.56 100.34,262.93 101.05,267.19 101.76,255.84 102.47,258.42 103.18,262.63 103.88,258.64 104.59,260.29 105.30,256.26 106.01,259.47 106.72,259.42 107.42,253.28 108.13,260.05 108.84,265.20 109.55,263.62 110.26,259.85 110.96,264.12 111.67,255.72 112.38,261.45 113.09,263.48 113.80,256.21 114.50,262.83 115.21,255.23 115.92,256.23 116.63,263.01 117.34,260.74 118.04,263.60 118.75,261.44 119.46,260.64 120.17,258.15 120.88,257.41 121.58,264.67 122.29,262.91 123.00,266.77 123.71,261.66 124.42,263.19 125.12,259.59 125.83,263.48 126.54,260.74 127.25,263.94 127.96,262.30 128.66,260.11 129.37,264.87 130.08,260.94 130.79,259.96 131.50,256.96 132.20,261.81 132.91,263.35 133.62,262.93 134.33,268.67 135.04,265.34 135.74,262.89 136.45,259.93 137.16,260.00 137.87,263.38 138.58,264.11 139.28,260.47 139.99,260.37 140.70,267.06 141.41,263.29 142.12,265.61 142.82,262.00 143.53,267.79 144.24,268.65 144.95,263.08 145.66,262.85 146.36,261.29 147.07,266.02 147.78,267.44 148.49,265.34 149.20,264.21 149.90,265.36 150.61,268.03 151.32,266.27 152.03,263.54 152.74,267.03 153.44,264.72 154.15,263.89 154.86,265.55 155.57,266.13 156.28,263.61 156.98,267.95 157.69,264.54 158.40,268.88 159.11,266.32 159.82,267.49 160.52,266.09 161.23,266.62 161.94,262.56 162.65,263.40 163.36,263.89 164.06,261.33 164.77,266.66 165.48,264.61 166.19,266.43 166.90,267.40 167.60,264.90 168.31,268.90 169.02,267.39 169.73,264.63 170.44,267.87 171.14,266.79 171.85,262.63 172.56,264.93 173.27,268.47 173.98,262.37 174.68,266.36 175.39,269.10 176.10,268.73 176.81,268.75 177.52,264.36 178.22,266.26 178.93,268.74 179.64,266.03 180.35,268.51 181.06,267.58 181.76,265.87 182.47,265.88 183.18,265.47 183.89,267.66 184.60,263.63 185.30,268.33 186.01,267.50 186.72,268.11 187.43,267.95 188.14,267.40 188.84,265.47 189.55,263.42 190.26,265.53 190.97,269.10 191.68,264.56 192.38,267.60 193.09,265.59 193.80,265.75 194.51,267.86 195.22,264.73 195.92,269.10 196.63,267.48 197.34,265.48 198.05,265.65 198.76,265.66 199.46,267.61 200.17,264.31 200.88,269.10 201.59,263.22 202.30,265.22 203.00,267.71 203.71,264.16 204.42,266.40 205.13,263.89 205.84,266.74 206.54,266.75 207.25,265.18 207.96,265.43 208.67,267.45 209.38,269.10 210.08,265.56 210.79,264.49 211.50,268.07 212.21,267.68 212.92,268.57 213.62,267.16 214.33,268.65 215.04,266.56 215.75,267.43" fill="none" stroke="#5fdc8f" stroke-width="1.4" stroke-linejoin="round"/>
<polyline points="35.21,269.10 35.92,268.26 36.62,268.26 37.33,268.26 38.04,268.26 38.75,268.26 39.46,268.26 40.16,268.26 40.87,268.18 41.58,267.52 42.29,264.33 43.00,255.35 43.70,242.75 44.41,235.67 45.12,239.60 45.83,248.82 46.54,258.25 47.24,264.58 47.95,267.63 48.66,268.73 49.37,269.03 50.08,269.09 50.78,269.10 51.49,269.10 52.20,269.10 52.91,269.10 53.62,269.10 54.32,269.10 55.03,269.10 55.74,269.10 56.45,269.10 57.16,269.10 57.86,269.10 58.57,269.10 59.28,269.10 59.99,269.10 60.70,269.10 61.40,269.10 62.11,269.10 62.82,269.10 63.53,269.10 64.24,269.10 64.94,269.10 65.65,269.10 66.36,269.10 67.07,269.10 67.78,269.10 68.48,269.10 69.19,269.10 69.90,269.10 70.61,269.10 71.32,269.10 72.02,269.10 72.73,269.10 73.44,269.10 74.15,269.10 74.86,269.10 75.56,269.10 76.27,269.10 76.98,269.10 77.69,269.10 78.40,269.10 79.10,269.10 79.81,269.10 80.52,269.10 81.23,269.10 81.94,269.10 82.64,269.10 83.35,269.10 84.06,269.10 84.77,269.10 85.48,269.10 86.18,269.10 86.89,269.10 87.60,269.10 88.31,269.10 89.02,269.10 89.72,269.10 90.43,269.10 91.14,269.10 91.85,269.10 92.56,269.10 93.26,269.10 93.97,269.10 94.68,269.10 95.39,269.10 96.10,269.10 96.80,269.10 97.51,269.10 98.22,269.10 98.93,269.10 99.64,269.10 100.34,269.10 101.05,269.10 101.76,269.10 102.47,269.10 103.18,269.10 103.88,269.10 104.59,269.10 105.30,269.10 106.01,269.10 106.72,269.10 107.42,269.10 108.13,269.10 108.84,269.10 109.55,269.10 110.26,269.10 110.96,269.10 111.67,269.10 112.38,269.10 113.09,269.10 113.80,269.10 114.50,269.10 115.21,269.10 115.92,269.10 116.63,269.10 117.34,269.10 118.04,269.10 118.75,269.10 119.46,269.10 120.17,269.10 120.88,269.10 121.58,269.10 122.29,269.10 123.00,269.10 123.71,269.10 124.42,269.10 125.12,269.10 125.83,269.10 126.54,269.10 127.25,269.10 127.96,269.10 128.66,269.10 129.37,269.10 130.08,269.10 130.79,269.10 131.50,269.10 132.20,269.10 132.91,269.10 133.62,269.10 134.33,269.10 135.04,269.10 135.74,269.10 136.45,269.10 137.16,269.10 137.87,269.10 138.58,269.10 139.28,269.10 139.99,269.10 140.70,269.10 141.41,269.10 142.12,269.10 142.82,269.10 143.53,269.10 144.24,269.10 144.95,269.10 145.66,269.10 146.36,269.10 147.07,269.10 147.78,269.10 148.49,269.10 149.20,269.10 149.90,269.10 150.61,269.10 151.32,269.10 152.03,269.10 152.74,269.10 153.44,269.10 154.15,269.10 154.86,269.10 155.57,269.10 156.28,269.10 156.98,269.10 157.69,269.10 158.40,269.10 159.11,269.10 159.82,269.10 160.52,269.10 161.23,269.10 161.94,269.10 162.65,269.10 163.36,269.10 164.06,269.10 164.77,269.10 165.48,269.10 166.19,269.10 166.90,269.10 167.60,269.10 168.31,269.10 169.02,269.10 169.73,269.10 170.44,269.10 171.14,269.10 171.85,269.10 172.56,269.10 173.27,269.10 173.98,269.10 174.68,269.10 175.39,269.10 176.10,269.10 176.81,269.10 177.52,269.10 178.22,269.10 178.93,269.10 179.64,269.10 180.35,269.10 181.06,269.10 181.76,269.10 182.47,269.10 183.18,269.10 183.89,269.10 184.60,269.10 185.30,269.10 186.01,269.10 186.72,269.10 187.43,269.10 188.14,269.10 188.84,269.10 189.55,269.10 190.26,269.10 190.97,269.10 191.68,269.10 192.38,269.10 193.09,269.10 193.80,269.10 194.51,269.10 195.22,269.10 195.92,269.10 196.63,269.10 197.34,269.10 198.05,269.10 198.76,269.10 199.46,269.10 200.17,269.10 200.88,269.10 201.59,269.10 202.30,269.10 203.00,269.10 203.71,269.10 204.42,269.10 205.13,269.10 205.84,269.10 206.54,269.10 207.25,269.10 207.96,269.10 208.67,269.10 209.38,269.10 210.08,269.10 210.79,269.10 211.50,269.10 212.21,269.10 212.92,269.10 213.62,269.10 214.33,269.10 215.04,269.10 215.75,269.10" fill="none" stroke="#b5173f" stroke-width="1.9" stroke-linejoin="round"/>
<rect x="34.5" y="296.5" width="212.4" height="34.6" fill="#fff" stroke="#a6a6a6" stroke-width="0.9"/>
<line x1="34.50" y1="331.1" x2="34.50" y2="329.1" stroke="#a6a6a6" stroke-width="0.8"/>
<line x1="34.50" y1="296.5" x2="34.50" y2="298.5" stroke="#a6a6a6" stroke-width="0.8"/>
<text x="34.50" y="345.10" text-anchor="middle" font-family='"Liberation Sans", Arial, sans-serif' font-size="10.5" fill="#333">0</text>
<line x1="69.90" y1="331.1" x2="69.90" y2="329.1" stroke="#a6a6a6" stroke-width="0.8"/>
<line x1="69.90" y1="296.5" x2="69.90" y2="298.5" stroke="#a6a6a6" stroke-width="0.8"/>
<text x="69.90" y="345.10" text-anchor="middle" font-family='"Liberation Sans", Arial, sans-serif' font-size="10.5" fill="#333">50</text>
<line x1="105.30" y1="331.1" x2="105.30" y2="329.1" stroke="#a6a6a6" stroke-width="0.8"/>
<line x1="105.30" y1="296.5" x2="105.30" y2="298.5" stroke="#a6a6a6" stroke-width="0.8"/>
<text x="105.30" y="345.10" text-anchor="middle" font-family='"Liberation Sans", Arial, sans-serif' font-size="10.5" fill="#333">100</text>
<line x1="140.70" y1="331.1" x2="140.70" y2="329.1" stroke="#a6a6a6" stroke-width="0.8"/>
<line x1="140.70" y1="296.5" x2="140.70" y2="298.5" stroke="#a6a6a6" stroke-width="0.8"/>
<text x="140.70" y="345.10" text-anchor="middle" font-family='"Liberation Sans", Arial, sans-serif' font-size="10.5" fill="#333">150</text>
<line x1="176.10" y1="331.1" x2="176.10" y2="329.1" stroke="#a6a6a6" stroke-width="0.8"/>
<line x1="176.10" y1="296.5" x2="176.10" y2="298.5" stroke="#a6a6a6" stroke-width="0.8"/>
<text x="176.10" y="345.10" text-anchor="middle" font-family='"Liberation Sans", Arial, sans-serif' font-size="10.5" fill="#333">200</text>
<line x1="211.50" y1="331.1" x2="211.50" y2="329.1" stroke="#a6a6a6" stroke-width="0.8"/>
<line x1="211.50" y1="296.5" x2="211.50" y2="298.5" stroke="#a6a6a6" stroke-width="0.8"/>
<text x="211.50" y="345.10" text-anchor="middle" font-family='"Liberation Sans", Arial, sans-serif' font-size="10.5" fill="#333">250</text>
<line x1="246.90" y1="331.1" x2="246.90" y2="329.1" stroke="#a6a6a6" stroke-width="0.8"/>
<line x1="246.90" y1="296.5" x2="246.90" y2="298.5" stroke="#a6a6a6" stroke-width="0.8"/>
<text x="246.90" y="345.10" text-anchor="middle" font-family='"Liberation Sans", Arial, sans-serif' font-size="10.5" fill="#333">300</text>
<line x1="34.5" y1="331.10" x2="36.5" y2="331.10" stroke="#a6a6a6" stroke-width="0.8"/>
<line x1="246.9" y1="331.10" x2="244.9" y2="331.10" stroke="#a6a6a6" stroke-width="0.8"/>
<text x="31.3" y="335.20" text-anchor="end" font-family='"Liberation Sans", Arial, sans-serif' font-size="10.5" fill="#333">0</text>
<line x1="34.5" y1="314.39" x2="36.5" y2="314.39" stroke="#a6a6a6" stroke-width="0.8"/>
<line x1="246.9" y1="314.39" x2="244.9" y2="314.39" stroke="#a6a6a6" stroke-width="0.8"/>
<text x="31.3" y="318.49" text-anchor="end" font-family='"Liberation Sans", Arial, sans-serif' font-size="10.5" fill="#333">0.5</text>
<line x1="34.5" y1="297.67" x2="36.5" y2="297.67" stroke="#a6a6a6" stroke-width="0.8"/>
<line x1="246.9" y1="297.67" x2="244.9" y2="297.67" stroke="#a6a6a6" stroke-width="0.8"/>
<text x="31.3" y="301.77" text-anchor="end" font-family='"Liberation Sans", Arial, sans-serif' font-size="10.5" fill="#333">1</text>
<polyline points="35.21,331.10 35.92,331.10 36.62,331.10 37.33,331.10 38.04,331.10 38.75,331.10 39.46,331.10 40.16,331.10 40.87,331.10 41.58,331.10 42.29,331.10 43.00,330.17 43.70,326.89 44.41,325.36 45.12,319.12 45.83,312.46 46.54,308.61 47.24,304.84 47.95,302.24 48.66,303.92 49.37,297.67 50.08,302.58 50.78,302.29 51.49,303.12 52.20,306.71 52.91,303.70 53.62,305.74 54.32,303.88 55.03,304.92 55.74,305.34 56.45,307.67 57.16,307.68 57.86,307.57 58.57,307.14 59.28,307.47 59.99,306.22 60.70,308.91 61.40,308.20 62.11,306.85 62.82,309.81 63.53,306.57 64.24,310.14 64.94,309.56 65.65,311.32 66.36,309.80 67.07,309.94 67.78,310.82 68.48,314.21 69.19,311.84 69.90,313.40 70.61,313.08 71.32,315.74 72.02,314.02 72.73,312.68 73.44,313.52 74.15,313.48 74.86,312.38 75.56,312.28 76.27,313.41 76.98,313.44 77.69,313.51 78.40,316.82 79.10,318.39 79.81,317.05 80.52,314.99 81.23,314.71 81.94,318.34 82.64,315.12 83.35,314.68 84.06,318.02 84.77,317.74 85.48,317.69 86.18,316.84 86.89,317.94 87.60,318.32 88.31,319.28 89.02,320.52 89.72,317.80 90.43,319.35 91.14,319.77 91.85,319.94 92.56,320.51 93.26,319.27 93.97,320.17 94.68,320.90 95.39,318.73 96.10,318.85 96.80,319.19 97.51,321.11 98.22,320.36 98.93,318.92 99.64,320.70 100.34,320.61 101.05,320.16 101.76,319.86 102.47,322.44 103.18,320.92 103.88,322.03 104.59,320.92 105.30,321.52 106.01,321.79 106.72,322.36 107.42,322.32 108.13,322.34 108.84,322.38 109.55,323.15 110.26,322.38 110.96,321.30 111.67,323.86 112.38,323.22 113.09,323.91 113.80,322.24 114.50,322.85 115.21,323.15 115.92,324.11 116.63,323.65 117.34,323.29 118.04,325.18 118.75,325.34 119.46,323.68 120.17,324.63 120.88,324.22 121.58,324.65 122.29,325.27 123.00,325.61 123.71,323.99 124.42,324.74 125.12,324.88 125.83,324.51 126.54,324.62 127.25,324.53 127.96,326.00 128.66,327.16 129.37,324.44 130.08,326.35 130.79,325.23 131.50,325.74 132.20,325.66 132.91,323.87 133.62,325.91 134.33,324.57 135.04,325.07 135.74,324.69 136.45,325.06 137.16,325.58 137.87,326.12 138.58,326.43 139.28,325.99 139.99,326.55 140.70,324.84 141.41,327.66 142.12,326.56 142.82,326.30 143.53,327.54 144.24,326.32 144.95,326.52 145.66,327.97 146.36,328.26 147.07,326.56 147.78,327.15 148.49,328.16 149.20,328.20 149.90,327.86 150.61,326.67 151.32,328.15 152.03,327.24 152.74,326.94 153.44,328.58 154.15,326.66 154.86,326.09 155.57,328.20 156.28,328.97 156.98,327.24 157.69,327.14 158.40,327.78 159.11,327.96 159.82,327.55 160.52,329.47 161.23,328.11 161.94,328.77 162.65,327.45 163.36,329.04 164.06,328.60 164.77,328.22 165.48,329.82 166.19,329.00 166.90,328.26 167.60,327.14 168.31,327.66 169.02,327.68 169.73,327.53 170.44,327.88 171.14,328.58 171.85,329.36 172.56,329.70 173.27,327.89 173.98,329.72 174.68,329.68 175.39,328.43 176.10,329.24 176.81,328.58 177.52,329.38 178.22,328.80 178.93,329.63 179.64,328.62 180.35,329.19 181.06,328.26 181.76,329.33 182.47,330.00 183.18,329.65 183.89,328.61 184.60,329.08 185.30,329.24 186.01,329.22 186.72,328.87 187.43,329.88 188.14,329.13 188.84,328.31 189.55,330.76 190.26,329.76 190.97,330.20 191.68,329.34 192.38,329.30 193.09,329.59 193.80,329.57 194.51,330.37 195.22,329.65 195.92,328.53 196.63,329.18 197.34,328.89 198.05,329.95 198.76,329.21 199.46,330.67 200.17,329.76 200.88,329.60 201.59,330.78 202.30,329.26 203.00,330.41 203.71,328.39 204.42,329.45 205.13,330.02 205.84,330.02 206.54,329.84 207.25,330.45 207.96,329.18 208.67,330.36 209.38,330.93 210.08,330.50 210.79,329.85 211.50,330.59 212.21,330.89 212.92,330.17 213.62,329.98 214.33,330.37 215.04,330.04 215.75,329.63" fill="none" stroke="#5fdc8f" stroke-width="1.4" stroke-linejoin="round"/>
<polyline points="35.21,331.10 35.92,330.26 36.62,330.26 37.33,330.26 38.04,330.26 38.75,330.26 39.46,330.26 40.16,330.26 40.87,330.18 41.58,329.52 42.29,326.33 43.00,317.35 43.70,304.75 44.41,297.67 45.12,301.60 45.83,310.82 46.54,320.25 47.24,326.58 47.95,329.63 48.66,330.73 49.37,331.03 50.08,331.09 50.78,331.10 51.49,331.10 52.20,331.10 52.91,331.10 53.62,331.10 54.32,331.10 55.03,331.10 55.74,331.10 56.45,331.10 57.16,331.10 57.86,331.10 58.57,331.10 59.28,331.10 59.99,331.10 60.70,331.10 61.40,331.10 62.11,331.10 62.82,331.10 63.53,331.10 64.24,331.10 64.94,331.10 65.65,331.10 66.36,331.10 67.07,331.10 67.78,331.10 68.48,331.10 69.19,331.10 69.90,331.10 70.61,331.10 71.32,331.10 72.02,331.10 72.73,331.10 73.44,331.10 74.15,331.10 74.86,331.10 75.56,331.10 76.27,331.10 76.98,331.10 77.69,331.10 78.40,331.10 79.10,331.10 79.81,331.10 80.52,331.10 81.23,331.10 81.94,331.10 82.64,331.10 83.35,331.10 84.06,331.10 84.77,331.10 85.48,331.10 86.18,331.10 86.89,331.10 87.60,331.10 88.31,331.10 89.02,331.10 89.72,331.10 90.43,331.10 91.14,331.10 91.85,331.10 92.56,331.10 93.26,331.10 93.97,331.10 94.68,331.10 95.39,331.10 96.10,331.10 96.80,331.10 97.51,331.10 98.22,331.10 98.93,331.10 99.64,331.10 100.34,331.10 101.05,331.10 101.76,331.10 102.47,331.10 103.18,331.10 103.88,331.10 104.59,331.10 105.30,331.10 106.01,331.10 106.72,331.10 107.42,331.10 108.13,331.10 108.84,331.10 109.55,331.10 110.26,331.10 110.96,331.10 111.67,331.10 112.38,331.10 113.09,331.10 113.80,331.10 114.50,331.10 115.21,331.10 115.92,331.10 116.63,331.10 117.34,331.10 118.04,331.10 118.75,331.10 119.46,331.10 120.17,331.10 120.88,331.10 121.58,331.10 122.29,331.10 123.00,331.10 123.71,331.10 124.42,331.10 125.12,331.10 125.83,331.10 126.54,331.10 127.25,331.10 127.96,331.10 128.66,331.10 129.37,331.10 130.08,331.10 130.79,331.10 131.50,331.10 132.20,331.10 132.91,331.10 133.62,331.10 134.33,331.10 135.04,331.10 135.74,331.10 136.45,331.10 137.16,331.10 137.87,331.10 138.58,331.10 139.28,331.10 139.99,331.10 140.70,331.10 141.41,331.10 142.12,331.10 142.82,331.10 143.53,331.10 144.24,331.10 144.95,331.10 145.66,331.10 146.36,331.10 147.07,331.10 147.78,331.10 148.49,331.10 149.20,331.10 149.90,331.10 150.61,331.10 151.32,331.10 152.03,331.10 152.74,331.10 153.44,331.10 154.15,331.10 154.86,331.10 155.57,331.10 156.28,331.10 156.98,331.10 157.69,331.10 158.40,331.10 159.11,331.10 159.82,331.10 160.52,331.10 161.23,331.10 161.94,331.10 162.65,331.10 163.36,331.10 164.06,331.10 164.77,331.10 165.48,331.10 166.19,331.10 166.90,331.10 167.60,331.10 168.31,331.10 169.02,331.10 169.73,331.10 170.44,331.10 171.14,331.10 171.85,331.10 172.56,331.10 173.27,331.10 173.98,331.10 174.68,331.10 175.39,331.10 176.10,331.10 176.81,331.10 177.52,331.10 178.22,331.10 178.93,331.10 179.64,331.10 180.35,331.10 181.06,331.10 181.76,331.10 182.47,331.10 183.18,331.10 183.89,331.10 184.60,331.10 185.30,331.10 186.01,331.10 186.72,331.10 187.43,331.10 188.14,331.10 188.84,331.10 189.55,331.10 190.26,331.10 190.97,331.10 191.68,331.10 192.38,331.10 193.09,331.10 193.80,331.10 194.51,331.10 195.22,331.10 195.92,331.10 196.63,331.10 197.34,331.10 198.05,331.10 198.76,331.10 199.46,331.10 200.17,331.10 200.88,331.10 201.59,331.10 202.30,331.10 203.00,331.10 203.71,331.10 204.42,331.10 205.13,331.10 205.84,331.10 206.54,331.10 207.25,331.10 207.96,331.10 208.67,331.10 209.38,331.10 210.08,331.10 210.79,331.10 211.50,331.10 212.21,331.10 212.92,331.10 213.62,331.10 214.33,331.10 215.04,331.10 215.75,331.10" fill="none" stroke="#b5173f" stroke-width="1.9" stroke-linejoin="round"/>
<rect x="189.3" y="175.1" width="52.4" height="27.2" fill="#fff" stroke="#8c8c8c" stroke-width="0.8"/>
<line x1="192.3" y1="182.2" x2="210.8" y2="182.2" stroke="#5fdc8f" stroke-width="1.4"/>
<line x1="192.3" y1="195" x2="210.8" y2="195" stroke="#b5173f" stroke-width="1.8"/>
<text x="212.7" y="186.4" font-family='"Liberation Sans", Arial, sans-serif' font-size="9.6" fill="#222">Decay</text>
<text x="212.7" y="198.6" font-family='"Liberation Sans", Arial, sans-serif' font-size="9.6" fill="#222">Irf</text>
<text x="145.8" y="188.3" font-family='"Liberation Sans", Arial, sans-serif' font-size="10" fill="#222"><tspan font-style="italic">SNR</tspan>=26dB</text>
<text x="146.2" y="251.9" font-family='"Liberation Sans", Arial, sans-serif' font-size="10" fill="#222"><tspan font-style="italic">SNR</tspan>=32dB</text>
<text x="143.4" y="311.4" font-family='"Liberation Sans", Arial, sans-serif' font-size="10" fill="#222"><tspan font-style="italic">SNR</tspan>=40dB</text>
<text x="11.5" y="251.2" transform="rotate(-90 11.5 251.2)" text-anchor="middle" font-family='"Liberation Sans", Arial, sans-serif' font-size="11.45" fill="#222">Normlized intensity (a.u.)</text>
<text x="140.5" y="359.7" text-anchor="middle" font-family='"Liberation Sans", Arial, sans-serif' font-size="11.3" fill="#222">Time bin</text>
<text x="270.3" y="172.0" font-family='"Liberation Sans", Arial, sans-serif' font-size="13.2" fill="#222" stroke="#222" stroke-width="0.3">(c)</text>
<rect x="307.5" y="176.4" width="210.20000000000005" height="160.49999999999997" fill="#fff"/>
<line x1="377.57" y1="176.4" x2="377.57" y2="336.9" stroke="#f1f1f1" stroke-width="0.9"/>
<line x1="447.63" y1="176.4" x2="447.63" y2="336.9" stroke="#f1f1f1" stroke-width="0.9"/>
<line x1="307.5" y1="303.30" x2="517.7" y2="303.30" stroke="#ececec" stroke-width="0.9"/>
<line x1="307.5" y1="278.30" x2="517.7" y2="278.30" stroke="#ececec" stroke-width="0.9"/>
<line x1="307.5" y1="253.30" x2="517.7" y2="253.30" stroke="#ececec" stroke-width="0.9"/>
<line x1="307.5" y1="228.30" x2="517.7" y2="228.30" stroke="#ececec" stroke-width="0.9"/>
<line x1="307.5" y1="203.30" x2="517.7" y2="203.30" stroke="#ececec" stroke-width="0.9"/>
<line x1="307.5" y1="178.30" x2="517.7" y2="178.30" stroke="#ececec" stroke-width="0.9"/>
<rect x="307.5" y="176.4" width="210.20000000000005" height="160.49999999999997" fill="none" stroke="#a6a6a6" stroke-width="0.9"/>
<line x1="307.50" y1="336.9" x2="307.50" y2="334.9" stroke="#a6a6a6" stroke-width="0.8"/>
<line x1="307.50" y1="176.4" x2="307.50" y2="178.4" stroke="#a6a6a6" stroke-width="0.8"/>
<text x="307.50" y="352.2" text-anchor="middle" font-family='"Liberation Sans", Arial, sans-serif' font-size="10.5" fill="#333">0</text>
<line x1="377.57" y1="336.9" x2="377.57" y2="334.9" stroke="#a6a6a6" stroke-width="0.8"/>
<line x1="377.57" y1="176.4" x2="377.57" y2="178.4" stroke="#a6a6a6" stroke-width="0.8"/>
<text x="377.57" y="352.2" text-anchor="middle" font-family='"Liberation Sans", Arial, sans-serif' font-size="10.5" fill="#333">50</text>
<line x1="447.63" y1="336.9" x2="447.63" y2="334.9" stroke="#a6a6a6" stroke-width="0.8"/>
<line x1="447.63" y1="176.4" x2="447.63" y2="178.4" stroke="#a6a6a6" stroke-width="0.8"/>
<text x="447.63" y="352.2" text-anchor="middle" font-family='"Liberation Sans", Arial, sans-serif' font-size="10.5" fill="#333">100</text>
<line x1="517.70" y1="336.9" x2="517.70" y2="334.9" stroke="#a6a6a6" stroke-width="0.8"/>
<line x1="517.70" y1="176.4" x2="517.70" y2="178.4" stroke="#a6a6a6" stroke-width="0.8"/>
<text x="517.70" y="352.2" text-anchor="middle" font-family='"Liberation Sans", Arial, sans-serif' font-size="10.5" fill="#333">150</text>
<line x1="307.5" y1="328.30" x2="309.5" y2="328.30" stroke="#a6a6a6" stroke-width="0.8"/>
<line x1="517.7" y1="328.30" x2="515.7" y2="328.30" stroke="#a6a6a6" stroke-width="0.8"/>
<text x="303.3" y="332.80" text-anchor="end" font-family='"Liberation Sans", Arial, sans-serif' font-size="10.5" fill="#333">0.04</text>
<line x1="307.5" y1="303.30" x2="309.5" y2="303.30" stroke="#a6a6a6" stroke-width="0.8"/>
<line x1="517.7" y1="303.30" x2="515.7" y2="303.30" stroke="#a6a6a6" stroke-width="0.8"/>
<text x="303.3" y="307.80" text-anchor="end" font-family='"Liberation Sans", Arial, sans-serif' font-size="10.5" fill="#333">0.06</text>
<line x1="307.5" y1="278.30" x2="309.5" y2="278.30" stroke="#a6a6a6" stroke-width="0.8"/>
<line x1="517.7" y1="278.30" x2="515.7" y2="278.30" stroke="#a6a6a6" stroke-width="0.8"/>
<text x="303.3" y="282.80" text-anchor="end" font-family='"Liberation Sans", Arial, sans-serif' font-size="10.5" fill="#333">0.08</text>
<line x1="307.5" y1="253.30" x2="309.5" y2="253.30" stroke="#a6a6a6" stroke-width="0.8"/>
<line x1="517.7" y1="253.30" x2="515.7" y2="253.30" stroke="#a6a6a6" stroke-width="0.8"/>
<text x="303.3" y="257.80" text-anchor="end" font-family='"Liberation Sans", Arial, sans-serif' font-size="10.5" fill="#333">0.1</text>
<line x1="307.5" y1="228.30" x2="309.5" y2="228.30" stroke="#a6a6a6" stroke-width="0.8"/>
<line x1="517.7" y1="228.30" x2="515.7" y2="228.30" stroke="#a6a6a6" stroke-width="0.8"/>
<text x="303.3" y="232.80" text-anchor="end" font-family='"Liberation Sans", Arial, sans-serif' font-size="10.5" fill="#333">0.12</text>
<line x1="307.5" y1="203.30" x2="309.5" y2="203.30" stroke="#a6a6a6" stroke-width="0.8"/>
<line x1="517.7" y1="203.30" x2="515.7" y2="203.30" stroke="#a6a6a6" stroke-width="0.8"/>
<text x="303.3" y="207.80" text-anchor="end" font-family='"Liberation Sans", Arial, sans-serif' font-size="10.5" fill="#333">0.14</text>
<line x1="307.5" y1="178.30" x2="309.5" y2="178.30" stroke="#a6a6a6" stroke-width="0.8"/>
<line x1="517.7" y1="178.30" x2="515.7" y2="178.30" stroke="#a6a6a6" stroke-width="0.8"/>
<text x="303.3" y="182.80" text-anchor="end" font-family='"Liberation Sans", Arial, sans-serif' font-size="10.5" fill="#333">0.16</text>
<polyline points="308.0,176.6 308.5,195 309.2,220 310.0,250 311.0,268 312.0,281.6 313.2,292 314.6,300 316.5,305.9 318.4,309.8 320.6,312.7 323.5,314.4 326.7,315.6 332,317.4 338.9,319.2 344,320.4 348.6,321.7 350.5,322.9 353.6,324.1 360,325.8 376.8,329.5 394.5,331.7 421.8,334.2 449,335.8 465,336.6 480.4,337.0" fill="none" stroke="#4fd67f" stroke-width="1.3" stroke-linejoin="round"/>
<polyline points="308.0,185.4 308.6,215 309.4,230 310.2,250 311.0,265 312.1,277.9 313.6,287 315.8,293.7 318.5,298.8 321.9,302.2 325.5,304.6 329.1,306.0 335,306.9 342,306.8 348.2,306.4 349.2,307.2 350.9,308.5 360,309.5 376.8,311.8 394.5,315.1 416.4,317.3 443.6,318.4 465,318.4 480.4,317.8" fill="none" stroke="#3f7fd6" stroke-width="1.3" stroke-linejoin="round"/>
<rect x="427.3" y="181.5" width="85.4" height="27" fill="#fff" stroke="#7a7a7a" stroke-width="0.8"/>
<line x1="428.8" y1="188.2" x2="448.2" y2="188.2" stroke="#4fd67f" stroke-width="1.4"/>
<line x1="428.8" y1="201.8" x2="448.2" y2="201.8" stroke="#3f7fd6" stroke-width="1.4"/>
<text x="450.5" y="191.7" font-family='"Liberation Sans", Arial, sans-serif' font-size="9.5" fill="#222">training loss</text>
<text x="450.5" y="205.2" font-family='"Liberation Sans", Arial, sans-serif' font-size="9.5" fill="#222">validation loss</text>
<text x="278.2" y="256.6" transform="rotate(-90 278.2 256.6)" text-anchor="middle" font-family='"Liberation Sans", Arial, sans-serif' font-size="11.1" fill="#222">MSE</text>
<text x="412.6" y="366.6" text-anchor="middle" font-family='"Liberation Sans", Arial, sans-serif' font-size="11.5" fill="#222">Epochs</text>
</svg></body></html>
